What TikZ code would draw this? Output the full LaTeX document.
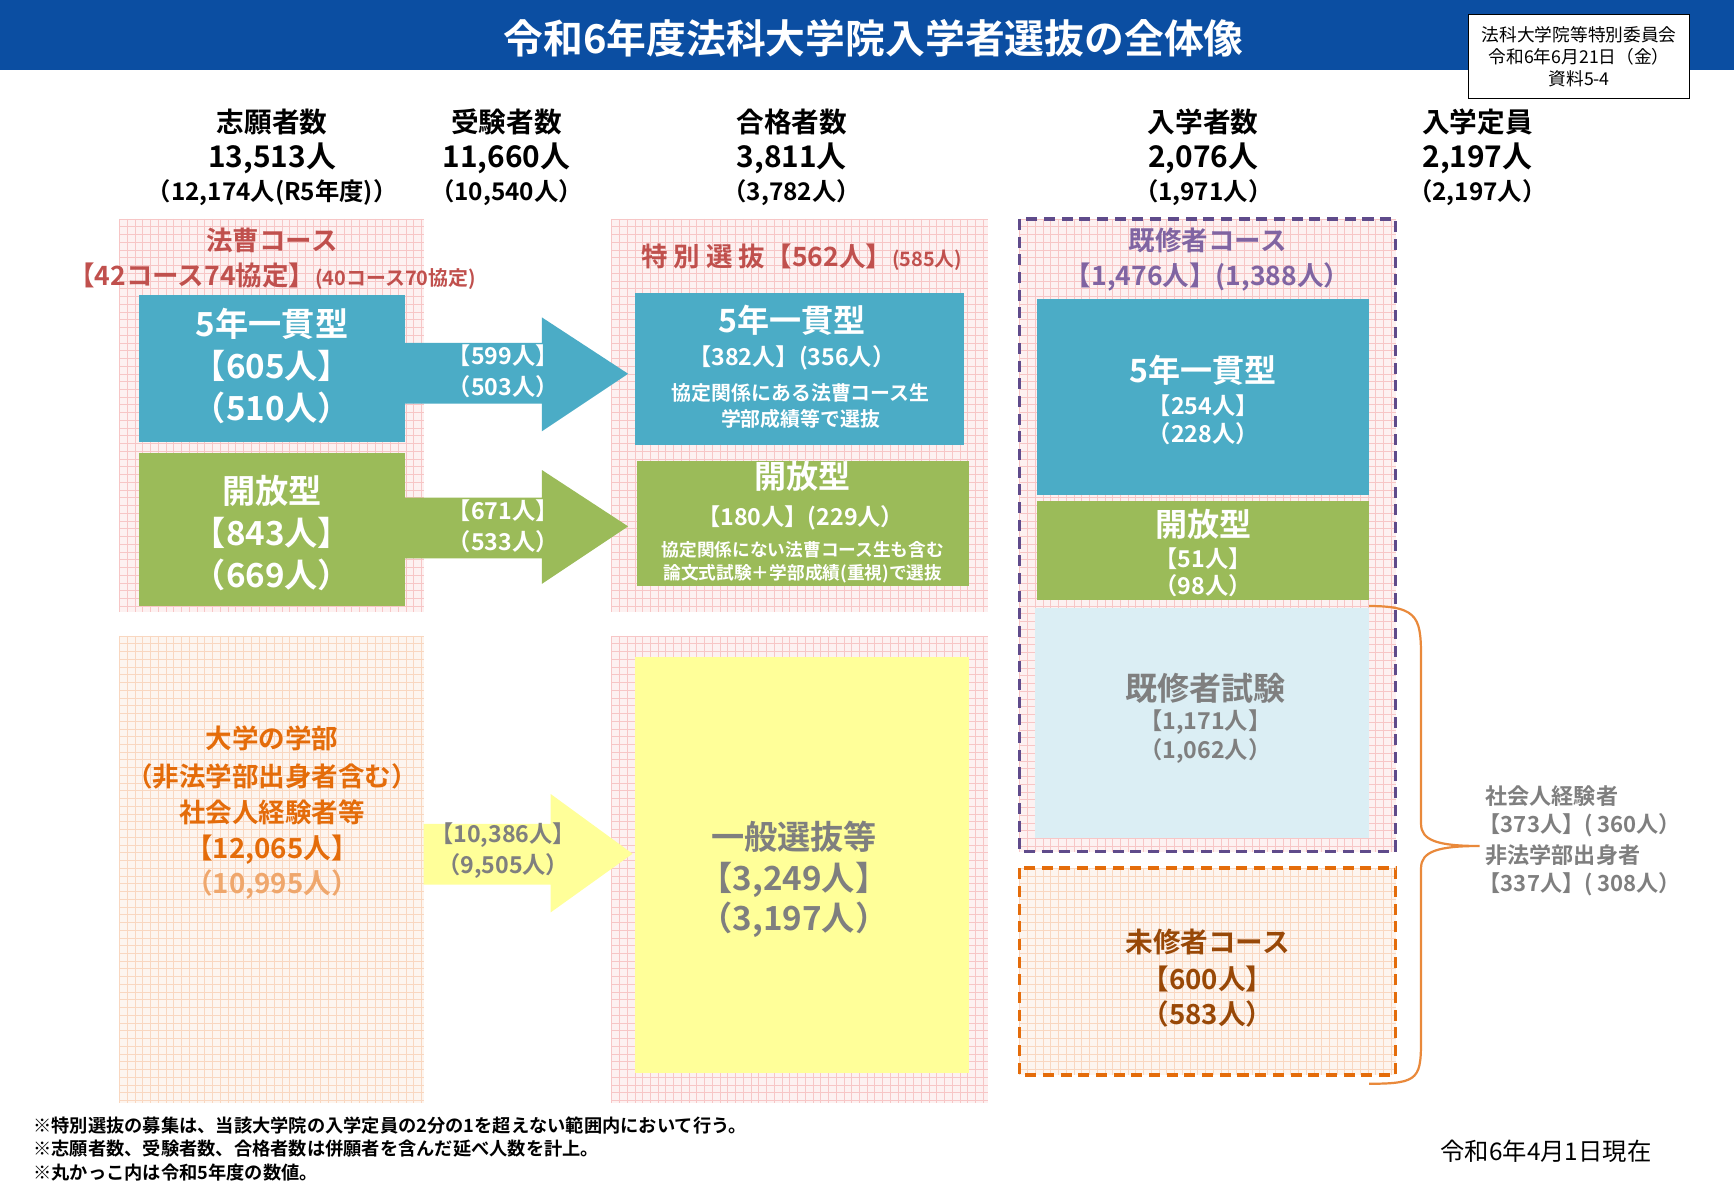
\documentclass[tikz,border=0pt]{standalone}
\usepackage{fontspec}
\setmainfont{Noto Sans CJK JP}
\newfontfamily\bfj{Noto Sans CJK JP Bold}
\definecolor{titleblue}{HTML}{0B4EA2}
\definecolor{cblue}{HTML}{4BACC6}
\definecolor{cgreen}{HTML}{9BBB59}
\definecolor{cyel}{HTML}{FFFF99}
\definecolor{cltblue}{HTML}{DBEEF4}
\definecolor{cred}{HTML}{C0504D}
\definecolor{corange}{HTML}{E46C0A}
\definecolor{cpurple}{HTML}{8064A2}
\definecolor{cdpurple}{HTML}{5F4B8B}
\definecolor{cbrown}{HTML}{984807}
\definecolor{cgray}{HTML}{7F7F7F}
\definecolor{gridpink}{HTML}{F7C6C6}
\definecolor{gridpeach}{HTML}{F9D7C0}
\tikzset{
 txt/.style={font=\bfj\fontsize{#1}{#1}\selectfont, inner sep=0pt},
 box/.style={inner sep=0pt, draw=none},
}
% x1 y1 x2 y2 colour
\newcommand{\gridbg}[5]{\fill[#5!25] (#1,#2) rectangle (#3,#4);
 \foreach \gx in {#1,\the\numexpr#1+7\relax,...,#3} \draw[#5, line width=0.5pt] (\gx,#2) -- (\gx,#4);
 \foreach \gy in {#2,\the\numexpr#2+7\relax,...,#4} \draw[#5, line width=0.5pt] (#1,\gy) -- (#3,\gy);}
\begin{document}
\begin{tikzpicture}[x=1pt,y=-1pt]
\useasboundingbox (0,0) rectangle (1568,1085);
\fill[white] (0,0) rectangle (1568,1085);
% title
\fill[titleblue] (0,0) rectangle (1568,63);
\node[txt=36, white] (title) at (790,35) {令和6年度法科大学院入学者選抜の全体像};
\draw[fill=white, line width=1.2pt] (1328,13) rectangle (1528,89);
\node[font=\fontsize{16}{20}\selectfont, align=center] (ref) at (1428,51) {法科大学院等特別委員会\\令和6年6月21日（金）\\資料5-4};
% headers
\foreach \x/\a/\b/\c in {246/志願者数/{13,513人}/{（12,174人(R5年度)）}, 458/受験者数/{11,660人}/{（10,540人）}, 716/合格者数/{3,811人}/{（3,782人）}, 1088/入学者数/{2,076人}/{（1,971人）}, 1336/入学定員/{2,197人}/{（2,197人）}}{
 \node[txt=25] at (\x,110) {\a};
 \node[txt=27] at (\x,143) {\b};
 \node[txt=22] at (\x,174) {\c};
}
% grid backgrounds
\gridbg{108}{198}{383}{553}{gridpink}
\gridbg{553}{198}{893}{553}{gridpink}
\gridbg{108}{575}{383}{997}{gridpeach}
\gridbg{553}{575}{893}{997}{gridpink}
\gridbg{922}{198}{1262}{770}{gridpink}
\gridbg{922}{785}{1262}{972}{gridpeach}
% left column
\node[txt=24, cred] (hoso) at (246,217) {法曹コース};
\node[txt=24, cred] (hosoN) at (246,250) {【42コース74協定】\fontsize{18}{18}\selectfont(40コース70協定)};
% arrows
\fill[cblue] (360,310) -- (490,310) -- (490,287) -- (568,338) -- (490,390) -- (490,365) -- (360,365) -- cycle;
\fill[cgreen] (360,450) -- (490,450) -- (490,425) -- (568,476) -- (490,528) -- (490,505) -- (360,505) -- cycle;
\fill[cyel] (383,745) -- (498,745) -- (498,718) -- (572,772) -- (498,825) -- (498,800) -- (383,800) -- cycle;
\node[box, fill=cblue, minimum width=240, minimum height=133] (l5) at (246,333.5) {};
\node[txt=30, white] at (246,293) {5年一貫型};
\node[txt=30, white] at (246,331) {【605人】};
\node[txt=30, white] at (246,369) {（510人）};
\node[box, fill=cgreen, minimum width=240, minimum height=138] (lo) at (246,479) {};
\node[txt=30, white] at (246,444) {開放型};
\node[txt=30, white] at (246,482) {【843人】};
\node[txt=30, white] at (246,520) {（669人）};
\node[txt=21, white] at (455,322) {【599人】};
\node[txt=21, white] at (455,350) {（503人）};
\node[txt=21, white] at (455,462) {【671人】};
\node[txt=21, white] at (455,490) {（533人）};
\node[txt=21, cgray] at (455,755) {【10,386人】};
\node[txt=21, cgray] at (455,783) {（9,505人）};
\node[txt=24, corange] at (246,668) {大学の学部};
\node[txt=24, corange] at (246,702) {（非法学部出身者含む）};
\node[txt=24, corange] at (246,735) {社会人経験者等};
\node[txt=25, corange] at (246,768) {【12,065人】};
\node[txt=25, corange!60] at (246,800) {（10,995人）};
% middle
\node[txt=24, cred] (tokubetsu) at (725,233) {特 別 選 抜【562人】\fontsize{18}{18}\selectfont(585人)};
\node[box, fill=cblue, minimum width=298, minimum height=137] (m5) at (723,333.5) {};
\node[txt=29, white] at (716,290) {5年一貫型};
\node[txt=21, white] at (716,324) {【382人】(356人）};
\node[txt=18, white] at (724,355) {協定関係にある法曹コース生};
\node[txt=18, white] at (724,379) {学部成績等で選抜};
\node[box, fill=cgreen, minimum width=300, minimum height=113] (mo) at (726,473.5) {};
\node[txt=29, white] at (726,431) {開放型};
\node[txt=21, white] at (724,468) {【180人】(229人）};
\node[txt=16, white] at (726,497) {協定関係にない法曹コース生も含む};
\node[txt=16, white] at (726,519) {論文式試験＋学部成績(重視)で選抜};
\node[box, fill=cyel, minimum width=302, minimum height=376] (ippan) at (725,782) {};
\node[txt=30, cgray] at (718,757) {一般選抜等};
\node[txt=30, cgray] at (718,796) {【3,249人】};
\node[txt=30, cgray] at (718,832) {（3,197人）};
% right
\node[txt=24, cpurple] at (1092,217) {既修者コース};
\node[txt=24, cpurple] at (1092,250) {【1,476人】(1,388人）};
\node[box, fill=cblue, minimum width=300, minimum height=178] (r5) at (1088,359) {};
\node[txt=29, white] at (1088,335) {5年一貫型};
\node[txt=21, white] at (1088,367) {【254人】};
\node[txt=21, white] at (1088,392) {（228人）};
\node[box, fill=cgreen, minimum width=300, minimum height=90] (ro) at (1088,498) {};
\node[txt=29, white] at (1088,474) {開放型};
\node[txt=21, white] at (1088,505) {【51人】};
\node[txt=21, white] at (1088,530) {（98人）};
\node[box, fill=cltblue, minimum width=302, minimum height=208] (rk) at (1087,654) {};
\node[txt=29, cgray] at (1090,622) {既修者試験};
\node[txt=21, cgray] at (1090,653) {【1,171人】};
\node[txt=21, cgray] at (1090,679) {（1,062人）};
\draw[cdpurple, line width=3pt, dash pattern=on 10pt off 6pt] (922,198) rectangle (1262,770);
\draw[corange, line width=3pt, dash pattern=on 10pt off 6pt] (922,785) rectangle (1262,972);
\node[txt=25, cbrown] at (1092,852) {未修者コース};
\node[txt=25, cbrown] at (1092,885) {【600人】};
\node[txt=25, cbrown] at (1092,917) {（583人）};
% brace
\draw[corange!80, line width=2pt] (1238,548) .. controls (1285,548) and (1285,560) .. (1285,600) -- (1285,745) .. controls (1285,760) and (1300,765) .. (1338,765) .. controls (1300,765) and (1285,770) .. (1285,785) -- (1285,935) .. controls (1285,975) and (1285,980) .. (1238,980);
\node[txt=20, cgray, anchor=west] at (1343,720) {社会人経験者};
\node[txt=20, cgray, anchor=west] at (1337,746) {【373人】( 360人）};
\node[txt=20, cgray, anchor=west] at (1343,773) {非法学部出身者};
\node[txt=20, cgray, anchor=west] at (1337,800) {【337人】( 308人）};
% footnotes
\node[txt=16.5, anchor=west] at (30,1018) {※特別選抜の募集は、当該大学院の入学定員の2分の1を超えない範囲内において行う。};
\node[txt=16.5, anchor=west] at (30,1039) {※志願者数、受験者数、合格者数は併願者を含んだ延べ人数を計上。};
\node[txt=16.5, anchor=west] at (30,1060) {※丸かっこ内は令和5年度の数値。};
\node[font=\fontsize{22}{22}\selectfont, inner sep=0pt] (date) at (1398,1041) {令和6年4月1日現在};
\end{tikzpicture}
\end{document}
